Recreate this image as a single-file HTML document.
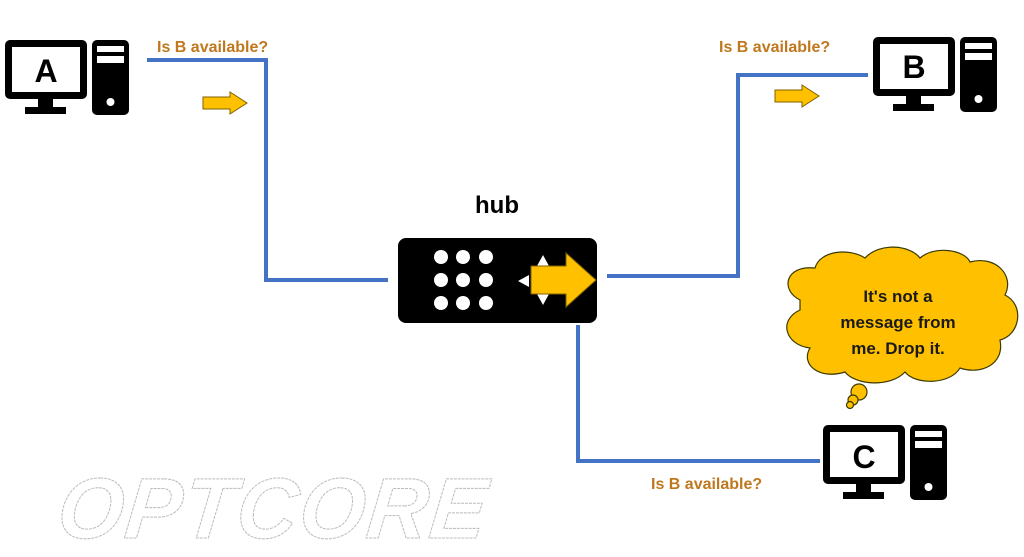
<!DOCTYPE html>
<html><head><style>
html,body{margin:0;padding:0;background:#fff;width:1024px;height:557px;overflow:hidden}
svg{display:block}
text{font-family:"Liberation Sans","DejaVu Sans",sans-serif;font-weight:bold}
</style></head><body>
<svg width="1024" height="557" viewBox="0 0 1024 557" xmlns="http://www.w3.org/2000/svg">
<defs>
<g id="pc">
  <rect x="0" y="0" width="82" height="59" rx="5" fill="#000"/>
  <rect x="7" y="7" width="68" height="45" fill="#fff"/>
  <rect x="33" y="58" width="15" height="11" fill="#000"/>
  <rect x="20" y="67" width="41" height="7" fill="#000"/>
  <rect x="87" y="0" width="37" height="75" rx="5" fill="#000"/>
  <rect x="92" y="6" width="27" height="6" fill="#fff"/>
  <rect x="92" y="16" width="27" height="7" fill="#fff"/>
  <circle cx="105.5" cy="62" r="4" fill="#fff"/>
</g>
<g id="yarrow">
  <polygon points="0,5 27,5 27,0 44,11 27,22 27,17 0,17" fill="#FFC000" stroke="#7f6000" stroke-width="1"/>
</g>
</defs>

<!-- watermark -->
<text x="112" y="538" font-size="86" font-style="italic" fill="#fff" stroke="#bbb" stroke-width="1" stroke-dasharray="3,1" letter-spacing="2" transform="skewX(-6)" textLength="430" lengthAdjust="spacingAndGlyphs">OPTCORE</text>

<!-- lines -->
<g fill="none" stroke="#4472C4" stroke-width="4">
  <polyline points="147,60 266,60 266,280 388,280"/>
  <polyline points="607,276 738,276 738,75 868,75"/>
  <polyline points="578,325 578,461 820,461"/>
</g>

<!-- computers -->
<use href="#pc" x="5" y="40"/>
<text x="46" y="82" font-size="32" text-anchor="middle" fill="#000">A</text>
<use href="#pc" x="873" y="37"/>
<text x="914" y="78" font-size="32" text-anchor="middle" fill="#000">B</text>
<use href="#pc" x="823" y="425"/>
<text x="864" y="468" font-size="32" text-anchor="middle" font-weight="normal" fill="#000">C</text>

<!-- labels -->
<g font-size="16" fill="#C0781E">
<text x="157" y="52">Is B available?</text>
<text x="719" y="52">Is B available?</text>
<text x="651" y="489">Is B available?</text>
</g>

<!-- yellow arrows -->
<use href="#yarrow" x="203" y="92"/>
<use href="#yarrow" x="775" y="85"/>

<!-- hub -->
<text x="497" y="213" font-size="24" text-anchor="middle" fill="#000">hub</text>
<rect x="398" y="238" width="199" height="85" rx="8" fill="#000"/>
<g fill="#fff">
  <circle cx="441" cy="257" r="7"/><circle cx="463" cy="257" r="7"/><circle cx="486" cy="257" r="7"/>
  <circle cx="441" cy="280" r="7"/><circle cx="463" cy="280" r="7"/><circle cx="486" cy="280" r="7"/>
  <circle cx="441" cy="303" r="7"/><circle cx="463" cy="303" r="7"/><circle cx="486" cy="303" r="7"/>
  <polygon points="543,255 537,266 549,266"/>
  <polygon points="543,305 537,294 549,294"/>
  <polygon points="518,281 529,275 529,287"/>
</g>
<polygon points="531,266 566,266 566,253 596,280 566,307 566,294 531,294" fill="#FFC000" stroke="#7f6000" stroke-width="1"/>

<!-- cloud -->
<g fill="#FFC000" stroke="#3a3a00" stroke-width="1.2">
  <path d="M800,300 C780,290 785,265 815,268 C820,250 850,248 865,258 C880,242 910,245 920,258 C935,245 965,250 970,262 C995,255 1015,275 1005,295 C1025,305 1020,335 1000,340 C1005,365 980,375 960,368 C950,385 915,385 905,372 C890,388 855,385 845,372 C820,380 800,365 810,348 C785,345 778,320 800,310 Z"/>
  <circle cx="859" cy="392" r="8"/>
  <circle cx="853" cy="400" r="5"/>
  <circle cx="850" cy="405" r="3.5"/>
</g>
<g font-size="17" fill="#1a1a1a" text-anchor="middle">
  <text x="898" y="302">It's not a</text>
  <text x="898" y="328">message from</text>
  <text x="898" y="354">me. Drop it.</text>
</g>
</svg>
</body></html>
